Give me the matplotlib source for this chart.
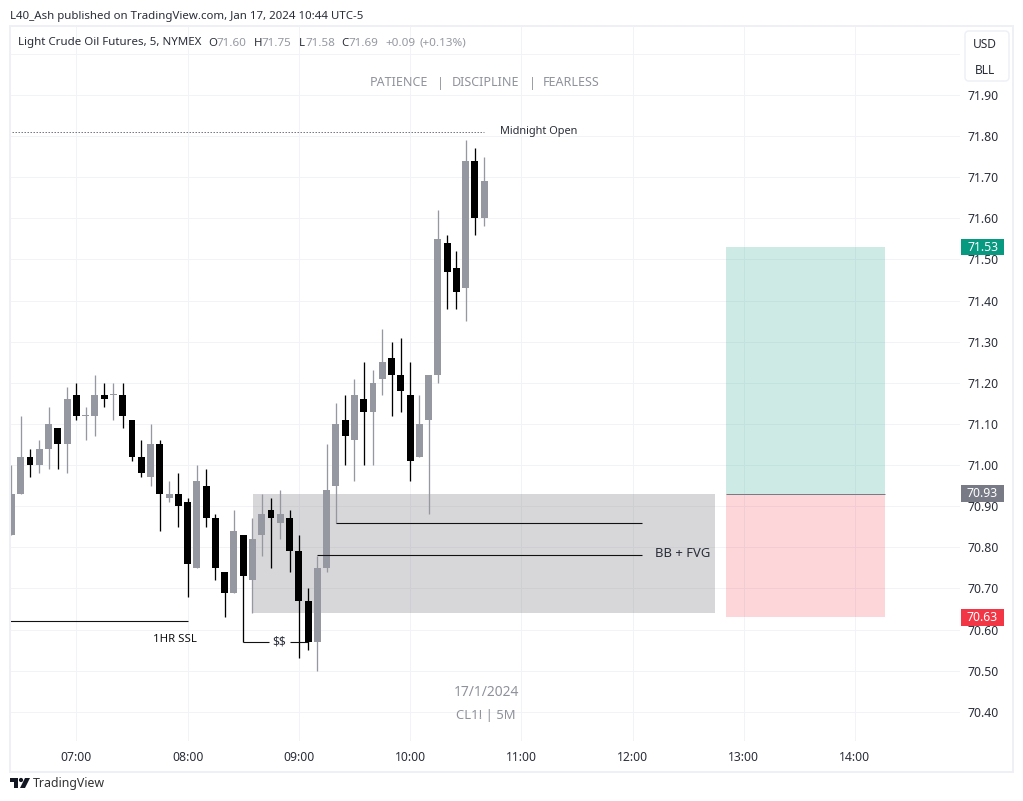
import matplotlib
matplotlib.use("Agg")
import matplotlib.pyplot as plt
from matplotlib.patches import Rectangle, FancyBboxPatch, Polygon, Circle

plt.rcParams["font.family"] = ["Noto Sans", "DejaVu Sans"]

# --- Data ---
candle_idx = list(range(1, 53))  # 5 minute bars, 07:00 is bar 8
opens = [70.83, 70.93, 71.02, 71.00, 71.04, 71.09, 71.05, 71.17, 71.12, 71.12, 71.17, 71.17, 71.17,
         71.11, 71.02, 70.97, 71.05, 70.92, 70.93, 70.91, 70.75, 70.95, 70.87, 70.74, 70.69, 70.83,
         70.72, 70.83, 70.89, 70.86, 70.87, 70.79, 70.67, 70.57, 70.75, 70.95, 71.11, 71.06, 71.16,
         71.13, 71.21, 71.26, 71.22, 71.17, 71.02, 71.11, 71.22, 71.54, 71.48, 71.43, 71.74, 71.60]
highs = [71.00, 71.12, 71.04, 71.06, 71.14, 71.09, 71.19, 71.20, 71.14, 71.22, 71.20, 71.20, 71.20,
         71.11, 71.06, 71.10, 71.06, 70.96, 70.98, 70.92, 71.00, 70.99, 70.88, 70.74, 70.89, 70.83,
         70.87, 70.93, 70.92, 70.94, 70.89, 70.83, 70.70, 70.78, 71.05, 71.15, 71.17, 71.21, 71.25,
         71.23, 71.33, 71.30, 71.31, 71.25, 71.17, 71.22, 71.62, 71.56, 71.52, 71.79, 71.77, 71.75]
lows = [70.83, 70.93, 70.97, 70.98, 70.99, 70.99, 70.98, 71.11, 71.06, 71.07, 71.14, 71.11, 71.09,
        71.01, 70.97, 70.95, 70.84, 70.91, 70.85, 70.68, 70.75, 70.85, 70.72, 70.63, 70.69, 70.57,
        70.64, 70.78, 70.75, 70.82, 70.74, 70.53, 70.55, 70.50, 70.74, 70.86, 71.00, 70.96, 71.00,
        71.00, 71.17, 71.12, 71.13, 70.96, 71.02, 70.88, 71.20, 71.38, 71.38, 71.35, 71.56, 71.58]
closes = [70.93, 71.02, 71.00, 71.04, 71.10, 71.05, 71.16, 71.12, 71.12, 71.17, 71.16, 71.17, 71.12,
          71.02, 70.98, 71.05, 70.93, 70.93, 70.90, 70.76, 70.96, 70.87, 70.75, 70.69, 70.84, 70.73,
          70.82, 70.88, 70.87, 70.88, 70.79, 70.67, 70.57, 70.75, 70.94, 71.10, 71.07, 71.17, 71.13,
          71.20, 71.25, 71.22, 71.18, 71.01, 71.10, 71.22, 71.55, 71.47, 71.42, 71.74, 71.60, 71.69]

price_ticks = [70.40, 70.50, 70.60, 70.70, 70.80, 70.90, 71.00, 71.10, 71.20, 71.30, 71.40, 71.50,
               71.60, 71.70, 71.80, 71.90, 72.00]
time_ticks = [8, 20, 32, 44, 56, 68, 80, 92]
time_labels = ["07:00", "08:00", "09:00", "10:00", "11:00", "12:00", "13:00", "14:00"]

# --- Colours ---
UP = "#9598a1"
DOWN = "#000000"
GRID = "#f1f3f7"
FRAME = "#eef0f5"
TEXT = "#2a2e39"
WATER = "#8f929b"

PX = 0.72  # one pixel in points at dpi 100

fig = plt.figure(figsize=(10.23, 8.01), dpi=100)
ax = fig.add_axes([10 / 1023, 1 - 741 / 801, 950 / 1023, 714 / 801])
ax.set_xlim(0.84, 103.33)
ax.set_ylim(70.329, 72.065)
for s in ax.spines.values():
    s.set_visible(False)

ax.set_axisbelow(True)
ax.grid(True, color=GRID, linewidth=PX)
ax.yaxis.tick_right()
ax.set_yticks(price_ticks)
ax.set_yticklabels([f"{p:.2f}" if p < 72 else "" for p in price_ticks], fontsize=8.8, color=TEXT)
ax.set_xticks(time_ticks)
ax.set_xticklabels(time_labels, fontsize=8.8, color=TEXT, fontweight="medium")
ax.tick_params(axis="both", length=0)
ax.tick_params(axis="y", pad=5.7)
ax.tick_params(axis="x", pad=7)

# --- Boxes ---
ax.fill_between([27.05, 76.88], 70.64, 70.93, color="#7c7c82", alpha=0.3, linewidth=0, zorder=1)
ax.fill_between([78.07, 95.22], 70.93, 71.53, color="#089981", alpha=0.2, linewidth=0, zorder=1)
ax.fill_between([78.07, 95.22], 70.63, 70.93, color="#f23645", alpha=0.2, linewidth=0, zorder=1)
ax.hlines(70.93, 78.07, 95.22, color="#787b86", linewidth=PX, zorder=1.5)

# --- Candles ---
colors = [UP if c >= o else DOWN for o, c in zip(opens, closes)]
ax.vlines(candle_idx, lows, highs, colors=colors, linewidth=PX * 1.3, zorder=3)
for i, o, c, col in zip(candle_idx, opens, closes, colors):
    ax.bar(i, max(abs(c - o), 0.002), bottom=min(o, c), width=0.75, color=col, linewidth=0, zorder=4)

# --- Drawings ---
ax.hlines(71.81, 1.05, 52, color="#787b86", linewidth=PX, linestyle=(0, (1.5, 1.5)), zorder=2)
ax.text(53.7, 71.81, "Midnight Open", fontsize=7.9, color=TEXT, va="center", ha="left")
ax.hlines(70.62, 0.84, 20, color="#111111", linewidth=PX * 1.1, zorder=5)
ax.text(18.6, 70.577, "1HR SSL", fontsize=8.2, color="#111111", va="center", ha="center", fontweight="medium")
ax.hlines(70.57, 26, 28.8, color="#111111", linewidth=PX * 1.1, zorder=5)
ax.hlines(70.57, 31, 33, color="#111111", linewidth=PX * 1.1, zorder=5)
ax.text(29.9, 70.57, "$$", fontsize=8.6, color=TEXT, va="center", ha="center", parse_math=False)
ax.hlines(70.86, 36, 69, color="#111111", linewidth=PX * 1.1, zorder=5)
ax.hlines(70.782, 34, 69, color="#111111", linewidth=PX * 1.1, zorder=5)
ax.text(73.4, 70.786, "BB + FVG", fontsize=9.4, color=TEXT, va="center", ha="center")

# --- Price labels on the scale ---
trans = ax.get_yaxis_transform()
for price, col in [(71.53, "#089981"), (70.93, "#787b86"), (70.63, "#f23645")]:
    ax.add_patch(Rectangle((1.0011, price - 0.0205), 43 / 950, 0.041, transform=trans,
                           facecolor=col, edgecolor="none", clip_on=False, zorder=6))
    ax.text(1.0237, price, f"{price:.2f}", transform=trans, color="white", fontsize=8.8,
            fontweight="medium", ha="center", va="center", clip_on=False, zorder=7)

# --- Page furniture, placed in pixels ---
page = fig.add_axes([0, 0, 1, 1])
page.set_xlim(0, 1023)
page.set_ylim(801, 0)
page.axis("off")
page.patch.set_alpha(0)

page.add_patch(Rectangle((9.5, 26), 1003, 746, fill=False, edgecolor=FRAME, linewidth=PX * 2))
page.add_patch(FancyBboxPatch((967, 33), 40, 46, boxstyle="round,pad=2,rounding_size=4",
                              facecolor="white", edgecolor=FRAME, linewidth=PX * 1.5))
page.text(985, 44, "USD", fontsize=8.6, color=TEXT, ha="center", va="center")
page.text(985, 70, "BLL", fontsize=8.6, color=TEXT, ha="center", va="center")

page.text(10, 16, "L40_Ash published on TradingView.com, Jan 17, 2024 10:44 UTC-5",
          fontsize=8.25, color=TEXT, ha="left", va="center")

legend_parts = [(18, "Light Crude Oil Futures, 5, NYMEX", TEXT, 8.3), (208, "O", TEXT, 8.2), (216, "71.60", UP, 8.4),
                (254, "H", TEXT, 8.2), (261, "71.75", UP, 8.4), (299, "L", TEXT, 8.2), (305, "71.58", UP, 8.4),
                (341, "C", TEXT, 8.2), (348, "71.69", UP, 8.4), (385, "+0.09", UP, 8.4), (419, "(+0.13%)", UP, 8.4)]
for x, s, col, size in legend_parts:
    page.text(x, 43, s, fontsize=size, color=col, ha="left", va="center")

for x, s in [(370, "PATIENCE"), (437.5, "|"), (452, "DISCIPLINE"), (529.5, "|"), (543, "FEARLESS")]:
    page.text(x, 83, s, fontsize=9.0, color=WATER, ha="left", va="center")
page.text(486, 692, "17/1/2024", fontsize=10, color=WATER, ha="center", va="center")
page.text(486, 716, "CL1! | 5M", fontsize=9.4, color=WATER, ha="center", va="center")

# logo
page.add_patch(Polygon([(10, 778), (18, 778), (18, 788), (14, 788), (14, 782), (10, 782)], facecolor="#131722"))
page.add_patch(Circle((21, 780), 2.1, facecolor="#131722"))
page.add_patch(Polygon([(25, 778), (30, 778), (25, 788), (20, 788)], facecolor="#131722"))
page.text(33, 784, "TradingView", fontsize=8.9, color="#333333", ha="left", va="center")

fig.savefig("out.png", dpi=100)
